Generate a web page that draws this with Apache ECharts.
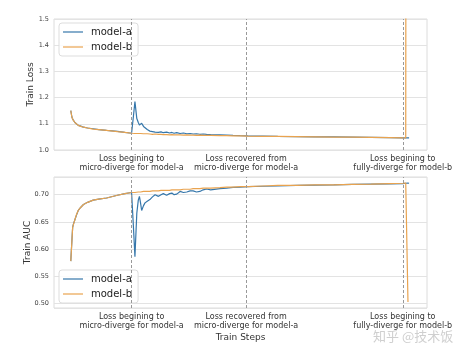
<!DOCTYPE html>
<html><head><meta charset="utf-8">
<script src="https://cdn.jsdelivr.net/npm/echarts@6/dist/echarts.min.js"></script>
<style>html,body{margin:0;padding:0;background:#fff}#c{width:474px;height:357px}</style>
</head><body><div id="c"></div>
<script>
const steps = [45, 48, 50, 52, 56, 60, 65, 72, 79, 90,
  105, 120, 141, 170, 190, 208, 213, 217, 222, 226,
  229, 232, 235, 240, 244, 250, 257, 264, 271, 280,
  287, 293, 302, 310, 316, 322, 329, 338, 347, 356,
  365, 373, 382, 391, 400, 409, 420, 445, 463, 480,
  499, 520, 560, 600, 650, 700, 750, 800, 850, 900,
  936, 943, 944, 949, 952];

const lossA = [1.150, 1.126, 1.118, 1.112, 1.105, 1.101, 1.094, 1.091, 1.087, 1.084,
  1.081, 1.078, 1.075, 1.071, 1.067, 1.064, 1.130, 1.185, 1.120, 1.105,
  1.095, 1.093, 1.102, 1.090, 1.084, 1.078, 1.072, 1.070, 1.068, 1.067,
  1.069, 1.066, 1.068, 1.065, 1.067, 1.064, 1.066, 1.063, 1.065, 1.062,
  1.063, 1.061, 1.062, 1.060, 1.061, 1.060, 1.059, 1.058, 1.057, 1.056,
  1.055, 1.054, 1.053, 1.052, 1.051, 1.050, 1.050, 1.049, 1.048, 1.047,
  1.046, 1.046, 1.046, 1.046, 1.046];

const lossB = [1.150, 1.125, 1.118, 1.113, 1.105, 1.100, 1.094, 1.090, 1.087, 1.084,
  1.080, 1.078, 1.075, 1.070, 1.067, 1.064, 1.064, 1.063, 1.063, 1.063,
  1.062, 1.063, 1.062, 1.062, 1.061, 1.062, 1.061, 1.060, 1.061, 1.060,
  1.060, 1.059, 1.059, 1.058, 1.059, 1.058, 1.058, 1.058, 1.057, 1.058,
  1.057, 1.057, 1.056, 1.057, 1.056, 1.056, 1.056, 1.055, 1.055, 1.054,
  1.054, 1.053, 1.052, 1.052, 1.051, 1.050, 1.049, 1.049, 1.048, 1.047,
  1.046, 1.046, 3.000, null, null];

const aucA = [0.578, 0.616, 0.640, 0.646, 0.654, 0.662, 0.671, 0.677, 0.682, 0.686,
  0.690, 0.692, 0.694, 0.699, 0.702, 0.704, 0.640, 0.586, 0.666, 0.690,
  0.697, 0.685, 0.671, 0.680, 0.685, 0.688, 0.691, 0.696, 0.700, 0.697,
  0.700, 0.702, 0.699, 0.702, 0.703, 0.700, 0.701, 0.706, 0.704, 0.705,
  0.707, 0.707, 0.705, 0.706, 0.709, 0.7105, 0.709, 0.711, 0.712, 0.7135,
  0.714, 0.715, 0.7155, 0.716, 0.717, 0.7175, 0.718, 0.719, 0.7195, 0.720,
  0.7205, 0.721, 0.721, 0.7212, 0.721];

const aucB = [0.578, 0.615, 0.640, 0.645, 0.654, 0.663, 0.671, 0.677, 0.682, 0.686,
  0.690, 0.692, 0.694, 0.699, 0.702, 0.704, 0.704, 0.704, 0.704, 0.705,
  0.705, 0.705, 0.705, 0.706, 0.706, 0.706, 0.706, 0.707, 0.707, 0.707,
  0.708, 0.708, 0.708, 0.708, 0.709, 0.709, 0.709, 0.709, 0.710, 0.710,
  0.710, 0.711, 0.711, 0.711, 0.712, 0.712, 0.712, 0.713, 0.714, 0.714,
  0.715, 0.715, 0.716, 0.717, 0.717, 0.718, 0.718, 0.719, 0.7195, 0.7205,
  0.721, 0.7215, 0.721, 0.503, null];

const markerSteps = [208, 515, 935];
const markerLabels = ['Loss begining to\nmicro-diverge for model-a',
  'Loss recovered from\nmicro-diverge for model-a',
  'Loss begining to\nfully-diverge for model-b'];
const seriesNames = ['model-a', 'model-b'];
const lossTicks = [1.0, 1.1, 1.2, 1.3, 1.4, 1.5];
const aucTicks = [0.50, 0.55, 0.60, 0.65, 0.70];

const colors = ['#3677ab', '#e9a34f'];
const FONT = 'DejaVu Sans';
const pairs = arr => steps.map((s, i) => [s, arr[i]]);

function xAxisCfg(gridIndex, name) {
  return {
    type: 'value', gridIndex, min: 0, max: 1000,
    axisLine: {show: false}, axisTick: {show: false}, splitLine: {show: false},
    axisLabel: {
      customValues: markerSteps, margin: 4, fontSize: 8, lineHeight: 9,
      color: '#333', fontFamily: FONT, align: 'center',
      formatter: v => { const i = markerSteps.indexOf(v); return i >= 0 ? markerLabels[i] : ''; }
    },
    name, nameLocation: 'middle', nameGap: 25, nameMoveOverlap: false,
    nameTextStyle: {fontSize: 9, color: '#333', fontFamily: FONT}
  };
}

function mkSeries(name, arr, xi, yi, idx, withMarks) {
  const s = {
    name, type: 'line', xAxisIndex: xi, yAxisIndex: yi, data: pairs(arr),
    symbol: 'none', showSymbol: false, connectNulls: false, clip: true,
    lineStyle: {width: 1.2, color: colors[idx]}, itemStyle: {color: colors[idx]},
    z: 2 + idx, animation: false
  };
  if (withMarks) {
    s.markLine = {
      silent: true, symbol: 'none', animation: false,
      label: {show: false},
      lineStyle: {type: [3, 2], color: '#999', width: 1},
      data: markerSteps.map(v => ({xAxis: v}))
    };
  }
  return s;
}

const legendCfg = top => ({
  data: seriesNames, orient: 'vertical', left: 59, top,
  icon: 'path://M0,0 L40,0 L40,2.4 L0,2.4 Z',
  itemWidth: 20, itemHeight: 10, itemGap: 5, padding: [4, 6, 4, 4],
  borderColor: '#ddd', borderWidth: 1, borderRadius: 3,
  backgroundColor: 'rgba(255,255,255,0.85)',
  textStyle: {fontSize: 10, color: '#222', fontFamily: FONT, padding: [0, 0, 0, 3]}
});

const chart = echarts.init(document.getElementById('c'), null, {renderer: 'canvas'});
chart.setOption({
  animation: false,
  backgroundColor: '#fff',
  textStyle: {fontFamily: FONT},
  grid: [
    {left: 54, right: 47, top: 19, height: 131, show: true, borderColor: '#dcdcdc', borderWidth: 1},
    {left: 54, right: 47, top: 177, height: 131, show: true, borderColor: '#dcdcdc', borderWidth: 1}
  ],
  xAxis: [xAxisCfg(0, ''), xAxisCfg(1, 'Train Steps')],
  yAxis: [
    {
      type: 'value', gridIndex: 0, min: lossTicks[0], max: lossTicks[lossTicks.length - 1], interval: 0.1,
      axisLine: {show: false}, axisTick: {show: false},
      splitLine: {lineStyle: {color: '#e3e3e3', width: 1}},
      axisLabel: {fontSize: 6.5, color: '#444', margin: 5, fontFamily: FONT, formatter: v => v.toFixed(1)},
      name: 'Train Loss', nameLocation: 'middle', nameGap: 18.5, nameMoveOverlap: false,
      nameTextStyle: {fontSize: 9, color: '#333', fontFamily: FONT}
    },
    {
      type: 'value', gridIndex: 1, min: 0.492, max: 0.7325, minInterval: 0.05, maxInterval: 0.05,
      axisLine: {show: false}, axisTick: {show: false},
      splitLine: {lineStyle: {color: '#e3e3e3', width: 1}},
      axisLabel: {fontSize: 6.5, color: '#444', margin: 5, fontFamily: FONT,
        showMinLabel: false, showMaxLabel: false,
        formatter: v => aucTicks.some(t => Math.abs(t - v) < 1e-6) ? v.toFixed(2) : ''},
      name: 'Train AUC', nameLocation: 'middle', nameGap: 21.5, nameMoveOverlap: false,
      nameTextStyle: {fontSize: 9, color: '#333', fontFamily: FONT}
    }
  ],
  legend: [legendCfg(23), legendCfg(270)],
  series: [
    mkSeries(seriesNames[0], lossA, 0, 0, 0, true),
    mkSeries(seriesNames[1], lossB, 0, 0, 1, false),
    mkSeries(seriesNames[0], aucA, 1, 1, 0, true),
    mkSeries(seriesNames[1], aucB, 1, 1, 1, false)
  ],
  graphic: [{
    type: 'text', left: 373, top: 330, silent: true,
    style: {text: '知乎 @技术饭', fontSize: 13, fill: '#cfcfcf', fontFamily: 'Noto Sans CJK SC'}
  }]
});
</script></body></html>
